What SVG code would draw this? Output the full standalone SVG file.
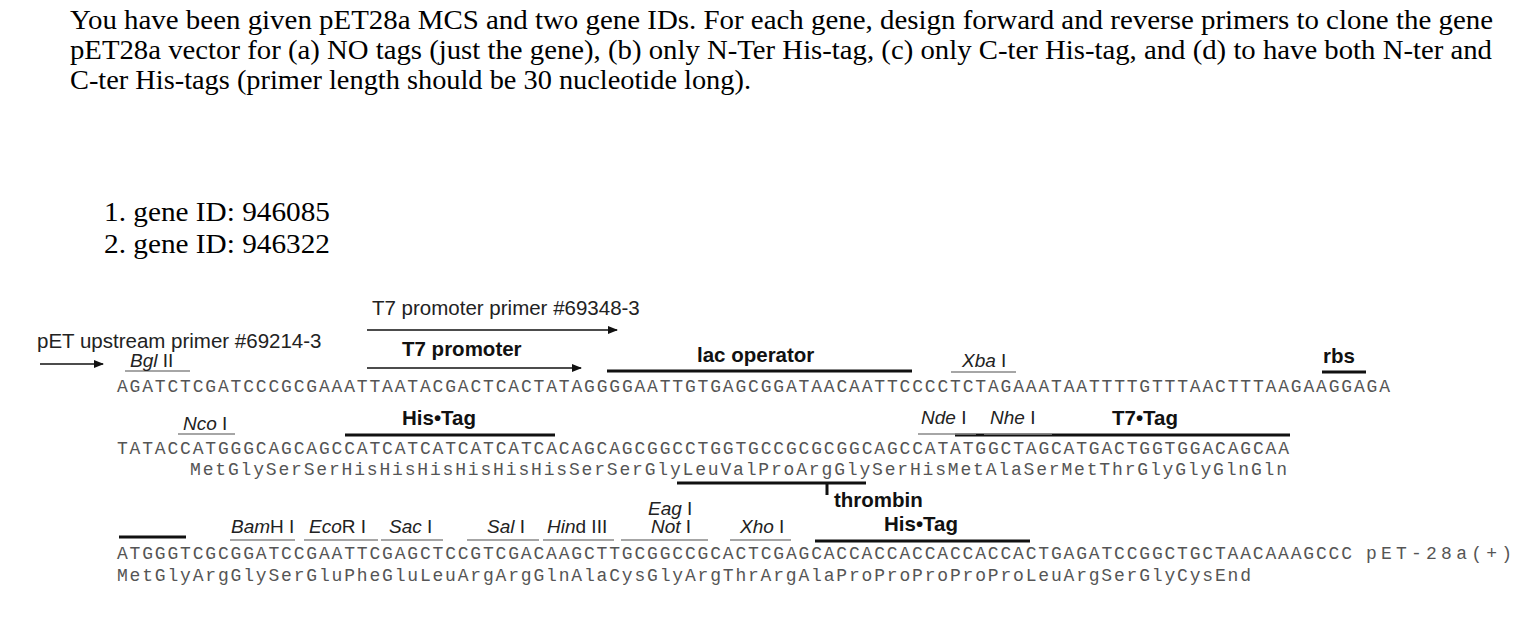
<svg xmlns="http://www.w3.org/2000/svg" width="1536" height="634" viewBox="0 0 1536 634">
<style>
.t{font-family:"Liberation Serif",serif;font-size:27px;fill:#000}
.seq{font-family:"Liberation Mono",monospace;font-size:18px;fill:#555}
.lab{font-family:"Liberation Sans",Arial,sans-serif;font-size:20.5px;fill:#222}
.b{font-family:"Liberation Sans",Arial,sans-serif;font-size:20.5px;font-weight:bold;fill:#111}
.site{font-family:"Liberation Sans",Arial,sans-serif;font-size:19px;fill:#222}
.g{stroke:#888;stroke-width:1.5}
.k{stroke:#111;stroke-width:3}
.a{stroke:#111;stroke-width:1.5;marker-end:url(#ah)}
</style>
<defs><marker id="ah" markerWidth="10" markerHeight="8" refX="9" refY="4" orient="auto" markerUnits="userSpaceOnUse"><path d="M0,0L10,4L0,8z" fill="#111"/></marker></defs>
<rect width="1536" height="634" fill="#fff"/>
<g id="title">
<text class="t" x="70" y="29" textLength="1423" lengthAdjust="spacingAndGlyphs">You have been given pET28a MCS and two gene IDs. For each gene, design forward and reverse primers to clone the gene</text>
<text class="t" x="70" y="59" textLength="1422" lengthAdjust="spacingAndGlyphs">pET28a vector for (a) NO tags (just the gene), (b) only N-Ter His-tag, (c) only C-ter His-tag, and (d) to have both N-ter and</text>
<text class="t" x="70" y="89" textLength="681" lengthAdjust="spacingAndGlyphs">C-ter His-tags (primer length should be 30 nucleotide long).</text>
<text class="t" x="104" y="221" textLength="226" lengthAdjust="spacingAndGlyphs">1.  gene ID: 946085</text>
<text class="t" x="104" y="253" textLength="226" lengthAdjust="spacingAndGlyphs">2.  gene ID: 946322</text>
</g>
<g id="connectors">
<line class="a" x1="40" y1="364" x2="103" y2="364"/>
<line class="a" x1="367" y1="330" x2="617" y2="330"/>
<line class="a" x1="367" y1="368" x2="581" y2="368"/>
<line class="k" x1="607" y1="371" x2="912" y2="371"/>
<line class="k" x1="1322" y1="372" x2="1366" y2="372"/>
<line class="k" x1="345" y1="435" x2="555" y2="435"/>
<line class="k" x1="955" y1="435" x2="1290" y2="435"/>
<line class="k" x1="677" y1="483" x2="866" y2="483"/>
<line class="k" x1="827" y1="483" x2="827" y2="495"/>
<line class="k" x1="119" y1="537" x2="186" y2="537"/>
<line class="k" x1="815" y1="541" x2="1030" y2="541"/>
<line class="g" x1="125" y1="371" x2="190" y2="371"/>
<line class="g" x1="951" y1="372" x2="1016" y2="372"/>
<line class="g" x1="178" y1="434" x2="235" y2="434"/>
<line class="g" x1="918" y1="434" x2="976" y2="434"/>
<line class="g" x1="984" y1="434" x2="1052" y2="434"/>
<line class="g" x1="230" y1="540" x2="295" y2="540"/>
<line class="g" x1="304" y1="540" x2="378" y2="540"/>
<line class="g" x1="381" y1="540" x2="443" y2="540"/>
<line class="g" x1="467" y1="540" x2="539" y2="540"/>
<line class="g" x1="543" y1="540" x2="614" y2="540"/>
<line class="g" x1="621" y1="540" x2="708" y2="540"/>
<line class="g" x1="730" y1="540" x2="791" y2="540"/>
</g>
<g id="labels">
<text class="lab" x="37" y="348">pET upstream primer #69214-3</text>
<text class="lab" x="372" y="315">T7 promoter primer #69348-3</text>
<text class="b" x="402" y="356">T7 promoter</text>
<text class="b" x="697" y="362">lac operator</text>
<text class="b" x="1323" y="363">rbs</text>
<text class="b" x="402" y="425">His•Tag</text>
<text class="b" x="1112" y="425">T7•Tag</text>
<text class="b" x="834" y="507">thrombin</text>
<text class="b" x="884" y="531">His•Tag</text>
<text class="site" x="130" y="367"><tspan font-style="italic">Bgl</tspan> II</text>
<text class="site" x="962" y="367"><tspan font-style="italic">Xba</tspan> I</text>
<text class="site" x="183" y="430"><tspan font-style="italic">Nco</tspan> I</text>
<text class="site" x="921" y="424"><tspan font-style="italic">Nde</tspan> I</text>
<text class="site" x="990" y="424"><tspan font-style="italic">Nhe</tspan> I</text>
<text class="site" x="231" y="533"><tspan font-style="italic">Bam</tspan>H I</text>
<text class="site" x="309" y="533"><tspan font-style="italic">Eco</tspan>R I</text>
<text class="site" x="389" y="533"><tspan font-style="italic">Sac</tspan> I</text>
<text class="site" x="487" y="533"><tspan font-style="italic">Sal</tspan> I</text>
<text class="site" x="547" y="533"><tspan font-style="italic">Hin</tspan>d III</text>
<text class="site" x="648" y="515"><tspan font-style="italic">Eag</tspan> I</text>
<text class="site" x="651" y="533"><tspan font-style="italic">Not</tspan> I</text>
<text class="site" x="740" y="533"><tspan font-style="italic">Xho</tspan> I</text>
</g>
<g id="sequence">
<text class="seq" x="117" y="392" textLength="1273" lengthAdjust="spacing">AGATCTCGATCCCGCGAAATTAATACGACTCACTATAGGGGAATTGTGAGCGGATAACAATTCCCCTCTAGAAATAATTTTGTTTAACTTTAAGAAGGAGA</text>
<text class="seq" x="117" y="454" textLength="1172" lengthAdjust="spacing">TATACCATGGGCAGCAGCCATCATCATCATCATCACAGCAGCGGCCTGGTGCCGCGCGGCAGCCATATGGCTAGCATGACTGGTGGACAGCAA</text>
<text class="seq" x="190" y="475" textLength="1097" lengthAdjust="spacing">MetGlySerSerHisHisHisHisHisHisSerSerGlyLeuValProArgGlySerHisMetAlaSerMetThrGlyGlyGlnGln</text>
<text class="seq" x="117" y="559" textLength="1235" lengthAdjust="spacing">ATGGGTCGCGGATCCGAATTCGAGCTCCGTCGACAAGCTTGCGGCCGCACTCGAGCACCACCACCACCACCACTGAGATCCGGCTGCTAACAAAGCCC</text>
<text class="seq" x="117" y="581" textLength="1134" lengthAdjust="spacing">MetGlyArgGlySerGluPheGluLeuArgArgGlnAlaCysGlyArgThrArgAlaProProProProProLeuArgSerGlyCysEnd</text>
<text class="seq" x="1366" y="559" textLength="146" lengthAdjust="spacing">pET-28a(+)</text>
</g>
</svg>
